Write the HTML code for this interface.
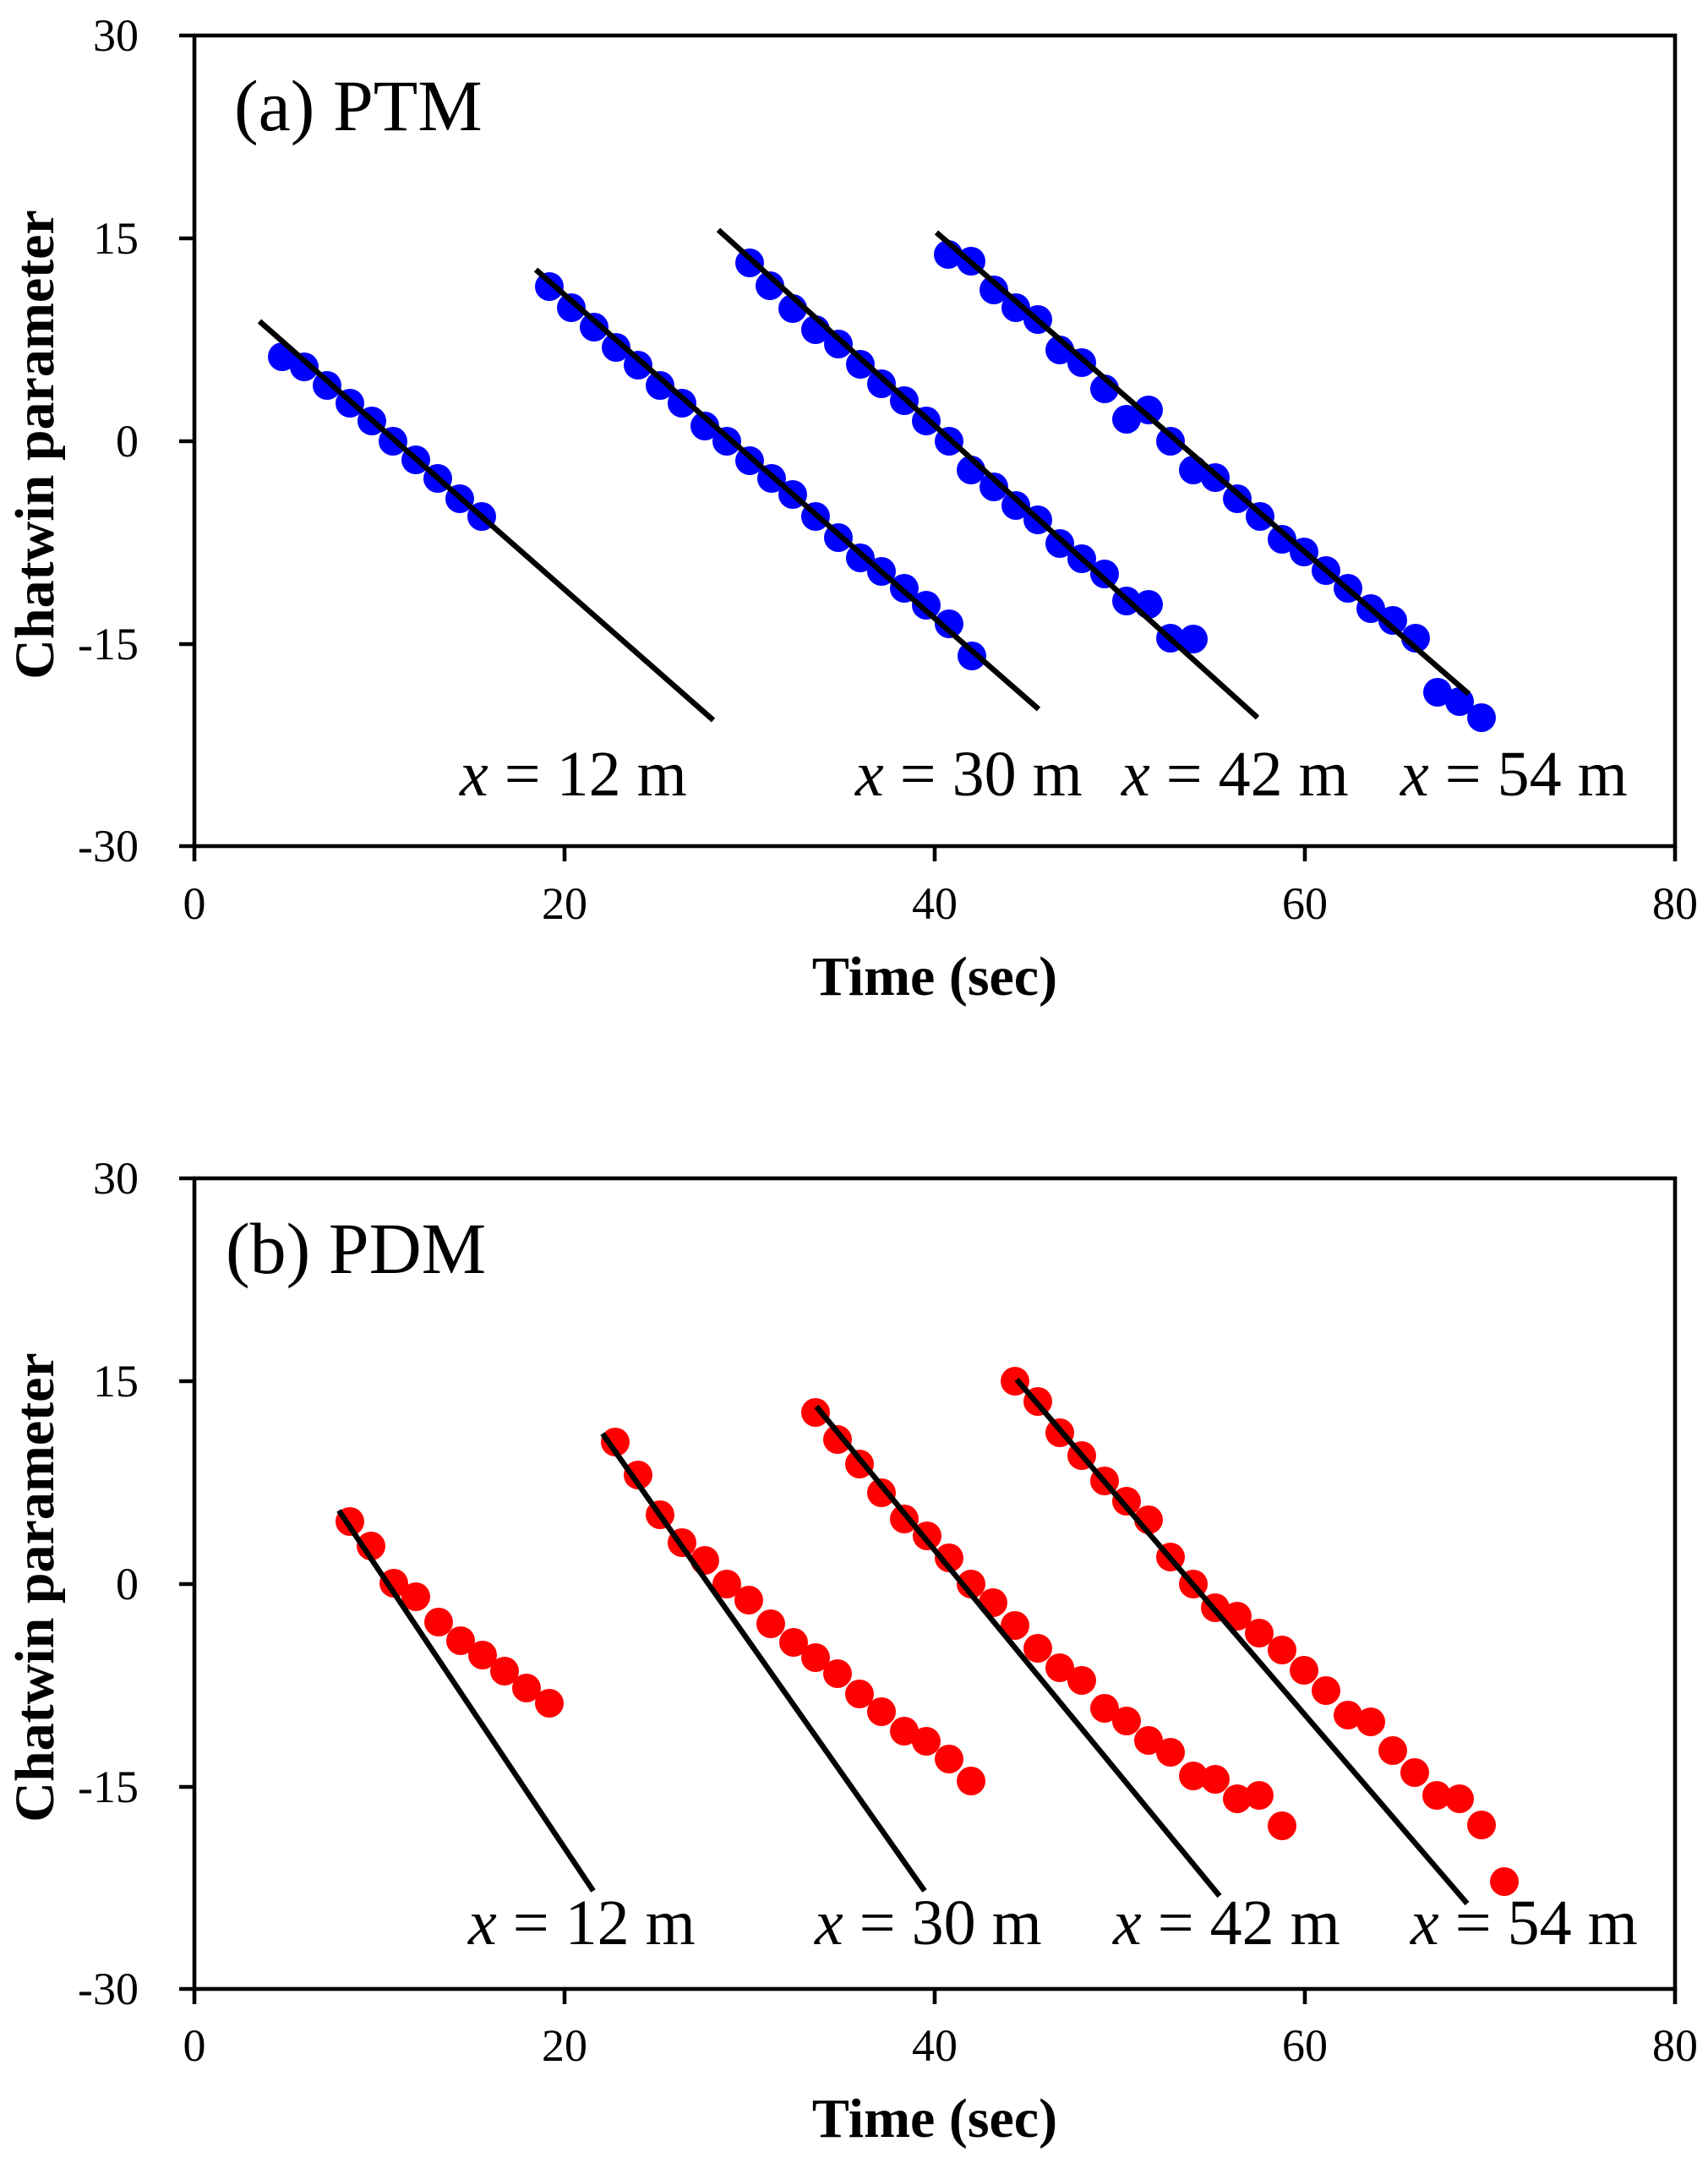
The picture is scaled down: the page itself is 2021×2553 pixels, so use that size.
<!DOCTYPE html>
<html>
<head>
<meta charset="utf-8">
<style>
html,body{margin:0;padding:0;background:#fff;}
svg{display:block;}
text{font-family:"Liberation Serif","Times New Roman",serif;fill:#000;}
.tk{font-size:54px;}
.ttl{font-size:86px;}
.lab{font-size:76px;}
.ax{font-size:66px;font-weight:bold;}
</style>
</head>
<body>
<svg width="2021" height="2553" viewBox="0 0 2021 2553" xmlns="http://www.w3.org/2000/svg">
<rect width="2021" height="2553" fill="#fff"/>

<!-- ================= PANEL A ================= -->
<g id="pa">
  <!-- markers -->
  <g fill="#0000FF">
    <!-- S1 -->
    <circle cx="334" cy="422" r="17"/><circle cx="360" cy="434" r="17"/><circle cx="387" cy="456" r="17"/><circle cx="414" cy="477" r="17"/><circle cx="440" cy="498" r="17"/><circle cx="465" cy="522" r="17"/><circle cx="492" cy="544" r="17"/><circle cx="518" cy="566" r="17"/><circle cx="544" cy="590" r="17"/><circle cx="570" cy="611" r="17"/>
    <!-- S2 -->
    <circle cx="650" cy="339" r="17"/><circle cx="676" cy="364" r="17"/><circle cx="703" cy="387" r="17"/><circle cx="729" cy="411" r="17"/><circle cx="755" cy="432" r="17"/><circle cx="781" cy="456" r="17"/><circle cx="807" cy="477" r="17"/><circle cx="834" cy="504" r="17"/><circle cx="860" cy="522" r="17"/><circle cx="887" cy="545" r="17"/><circle cx="913" cy="566" r="17"/><circle cx="938" cy="585" r="17"/><circle cx="965" cy="611" r="17"/><circle cx="992" cy="636" r="17"/><circle cx="1018" cy="660" r="17"/><circle cx="1043" cy="676" r="17"/><circle cx="1070" cy="696" r="17"/><circle cx="1096" cy="716" r="17"/><circle cx="1123" cy="738" r="17"/><circle cx="1150" cy="776" r="17"/>
    <!-- S3 -->
    <circle cx="887" cy="311" r="17"/><circle cx="911" cy="338" r="17"/><circle cx="938" cy="365" r="17"/><circle cx="965" cy="390" r="17"/><circle cx="992" cy="407" r="17"/><circle cx="1018" cy="431" r="17"/><circle cx="1043" cy="454" r="17"/><circle cx="1070" cy="474" r="17"/><circle cx="1096" cy="498" r="17"/><circle cx="1123" cy="522" r="17"/><circle cx="1149" cy="556" r="17"/><circle cx="1176" cy="576" r="17"/><circle cx="1202" cy="598" r="17"/><circle cx="1228" cy="615" r="17"/><circle cx="1254" cy="643" r="17"/><circle cx="1280" cy="661" r="17"/><circle cx="1307" cy="679" r="17"/><circle cx="1333" cy="711" r="17"/><circle cx="1359" cy="715" r="17"/><circle cx="1385" cy="755" r="17"/><circle cx="1412" cy="756" r="17"/>
    <!-- S4 -->
    <circle cx="1122" cy="301" r="17"/><circle cx="1149" cy="309" r="17"/><circle cx="1176" cy="343" r="17"/><circle cx="1202" cy="364" r="17"/><circle cx="1228" cy="378" r="17"/><circle cx="1254" cy="414" r="17"/><circle cx="1280" cy="429" r="17"/><circle cx="1307" cy="460" r="17"/><circle cx="1333" cy="496" r="17"/><circle cx="1359" cy="485" r="17"/><circle cx="1385" cy="522" r="17"/><circle cx="1412" cy="556" r="17"/><circle cx="1438" cy="565" r="17"/><circle cx="1464" cy="590" r="17"/><circle cx="1491" cy="611" r="17"/><circle cx="1517" cy="638" r="17"/><circle cx="1543" cy="653" r="17"/><circle cx="1569" cy="675" r="17"/><circle cx="1595" cy="696" r="17"/><circle cx="1622" cy="720" r="17"/><circle cx="1648" cy="734" r="17"/><circle cx="1675" cy="755" r="17"/><circle cx="1701" cy="819" r="17"/><circle cx="1727" cy="830" r="17"/><circle cx="1753" cy="849" r="17"/>
  </g>
  <!-- fit lines -->
  <g stroke="#000" stroke-width="6.5" fill="none">
    <line x1="307" y1="380" x2="844" y2="852"/>
    <line x1="634" y1="319" x2="1229" y2="839"/>
    <line x1="850" y1="272" x2="1488" y2="849"/>
    <line x1="1108" y1="275" x2="1738" y2="821"/>
  </g>
  <!-- frame and ticks -->
  <g stroke="#000" stroke-width="4.6" fill="none">
    <rect x="230" y="42" width="1752" height="959"/>
    <line x1="212" y1="42" x2="230" y2="42"/>
    <line x1="212" y1="282" x2="230" y2="282"/>
    <line x1="212" y1="522" x2="230" y2="522"/>
    <line x1="212" y1="762" x2="230" y2="762"/>
    <line x1="212" y1="1001" x2="230" y2="1001"/>
    <line x1="230" y1="1001" x2="230" y2="1019"/>
    <line x1="668" y1="1001" x2="668" y2="1019"/>
    <line x1="1106" y1="1001" x2="1106" y2="1019"/>
    <line x1="1544" y1="1001" x2="1544" y2="1019"/>
    <line x1="1982" y1="1001" x2="1982" y2="1019"/>
  </g>
  <g class="tk" text-anchor="end">
    <text x="164" y="60">30</text>
    <text x="164" y="300">15</text>
    <text x="164" y="540">0</text>
    <text x="164" y="780">-15</text>
    <text x="164" y="1019">-30</text>
  </g>
  <g class="tk" text-anchor="middle">
    <text x="230" y="1087">0</text>
    <text x="668" y="1087">20</text>
    <text x="1106" y="1087">40</text>
    <text x="1544" y="1087">60</text>
    <text x="1982" y="1087">80</text>
  </g>
  <text class="ttl" x="277" y="154">(a) PTM</text>
  <g class="lab">
    <text x="544" y="941"><tspan font-style="italic">x</tspan> = 12 m</text>
    <text x="1012" y="941"><tspan font-style="italic">x</tspan> = 30 m</text>
    <text x="1327" y="941"><tspan font-style="italic">x</tspan> = 42 m</text>
    <text x="1657" y="941"><tspan font-style="italic">x</tspan> = 54 m</text>
  </g>
  <text class="ax" x="1106" y="1177" text-anchor="middle">Time (sec)</text>
  <text class="ax" x="0" y="0" text-anchor="middle" transform="translate(63,526) rotate(-90)">Chatwin parameter</text>
</g>

<!-- ================= PANEL B ================= -->
<g id="pb">
  <g fill="#FF0000">
    <!-- B1 -->
    <circle cx="414" cy="1800" r="17"/><circle cx="439" cy="1829" r="17"/><circle cx="466" cy="1873" r="17"/><circle cx="492" cy="1889" r="17"/><circle cx="519" cy="1919" r="17"/><circle cx="545" cy="1941" r="17"/><circle cx="571" cy="1958" r="17"/><circle cx="597" cy="1977" r="17"/><circle cx="623" cy="1997" r="17"/><circle cx="650" cy="2015" r="17"/>
    <!-- B2 -->
    <circle cx="728" cy="1706" r="17"/><circle cx="755" cy="1745" r="17"/><circle cx="781" cy="1792" r="17"/><circle cx="807" cy="1825" r="17"/><circle cx="834" cy="1846" r="17"/><circle cx="860" cy="1874" r="17"/><circle cx="886" cy="1893" r="17"/><circle cx="912" cy="1921" r="17"/><circle cx="939" cy="1943" r="17"/><circle cx="965" cy="1961" r="17"/><circle cx="991" cy="1980" r="17"/><circle cx="1017" cy="2004" r="17"/><circle cx="1043" cy="2025" r="17"/><circle cx="1070" cy="2048" r="17"/><circle cx="1096" cy="2060" r="17"/><circle cx="1123" cy="2081" r="17"/><circle cx="1149" cy="2107" r="17"/>
    <!-- B3 -->
    <circle cx="965" cy="1671" r="17"/><circle cx="991" cy="1703" r="17"/><circle cx="1017" cy="1732" r="17"/><circle cx="1043" cy="1766" r="17"/><circle cx="1070" cy="1797" r="17"/><circle cx="1097" cy="1817" r="17"/><circle cx="1123" cy="1843" r="17"/><circle cx="1149" cy="1874" r="17"/><circle cx="1175" cy="1896" r="17"/><circle cx="1201" cy="1923" r="17"/><circle cx="1228" cy="1950" r="17"/><circle cx="1254" cy="1973" r="17"/><circle cx="1280" cy="1988" r="17"/><circle cx="1307" cy="2021" r="17"/><circle cx="1333" cy="2036" r="17"/><circle cx="1359" cy="2059" r="17"/><circle cx="1385" cy="2073" r="17"/><circle cx="1412" cy="2101" r="17"/><circle cx="1438" cy="2105" r="17"/><circle cx="1464" cy="2128" r="17"/><circle cx="1490" cy="2124" r="17"/><circle cx="1517" cy="2160" r="17"/>
    <!-- B4 -->
    <circle cx="1201" cy="1634" r="17"/><circle cx="1228" cy="1658" r="17"/><circle cx="1254" cy="1695" r="17"/><circle cx="1280" cy="1722" r="17"/><circle cx="1307" cy="1752" r="17"/><circle cx="1333" cy="1776" r="17"/><circle cx="1359" cy="1798" r="17"/><circle cx="1385" cy="1842" r="17"/><circle cx="1412" cy="1874" r="17"/><circle cx="1438" cy="1902" r="17"/><circle cx="1464" cy="1912" r="17"/><circle cx="1490" cy="1932" r="17"/><circle cx="1517" cy="1952" r="17"/><circle cx="1543" cy="1976" r="17"/><circle cx="1569" cy="2000" r="17"/><circle cx="1595" cy="2029" r="17"/><circle cx="1622" cy="2037" r="17"/><circle cx="1648" cy="2071" r="17"/><circle cx="1674" cy="2097" r="17"/><circle cx="1700" cy="2124" r="17"/><circle cx="1727" cy="2128" r="17"/><circle cx="1753" cy="2159" r="17"/><circle cx="1780" cy="2226" r="17"/>
  </g>
  <g stroke="#000" stroke-width="6.5" fill="none">
    <line x1="401" y1="1787" x2="702" y2="2237"/>
    <line x1="713" y1="1696" x2="1094" y2="2237"/>
    <line x1="966" y1="1664" x2="1443" y2="2243"/>
    <line x1="1203" y1="1632" x2="1736" y2="2252"/>
  </g>
  <g stroke="#000" stroke-width="4.6" fill="none">
    <rect x="230" y="1394" width="1752" height="959"/>
    <line x1="212" y1="1394" x2="230" y2="1394"/>
    <line x1="212" y1="1634" x2="230" y2="1634"/>
    <line x1="212" y1="1874" x2="230" y2="1874"/>
    <line x1="212" y1="2114" x2="230" y2="2114"/>
    <line x1="212" y1="2353" x2="230" y2="2353"/>
    <line x1="230" y1="2353" x2="230" y2="2371"/>
    <line x1="668" y1="2353" x2="668" y2="2371"/>
    <line x1="1106" y1="2353" x2="1106" y2="2371"/>
    <line x1="1544" y1="2353" x2="1544" y2="2371"/>
    <line x1="1982" y1="2353" x2="1982" y2="2371"/>
  </g>
  <g class="tk" text-anchor="end">
    <text x="164" y="1412">30</text>
    <text x="164" y="1652">15</text>
    <text x="164" y="1892">0</text>
    <text x="164" y="2132">-15</text>
    <text x="164" y="2371">-30</text>
  </g>
  <g class="tk" text-anchor="middle">
    <text x="230" y="2438">0</text>
    <text x="668" y="2438">20</text>
    <text x="1106" y="2438">40</text>
    <text x="1544" y="2438">60</text>
    <text x="1982" y="2438">80</text>
  </g>
  <text class="ttl" x="267" y="1506">(b) PDM</text>
  <g class="lab">
    <text x="554" y="2300"><tspan font-style="italic">x</tspan> = 12 m</text>
    <text x="964" y="2300"><tspan font-style="italic">x</tspan> = 30 m</text>
    <text x="1317" y="2300"><tspan font-style="italic">x</tspan> = 42 m</text>
    <text x="1669" y="2300"><tspan font-style="italic">x</tspan> = 54 m</text>
  </g>
  <text class="ax" x="1106" y="2528" text-anchor="middle">Time (sec)</text>
  <text class="ax" x="0" y="0" text-anchor="middle" transform="translate(63,1878) rotate(-90)">Chatwin parameter</text>
</g>
</svg>
</body>
</html>
